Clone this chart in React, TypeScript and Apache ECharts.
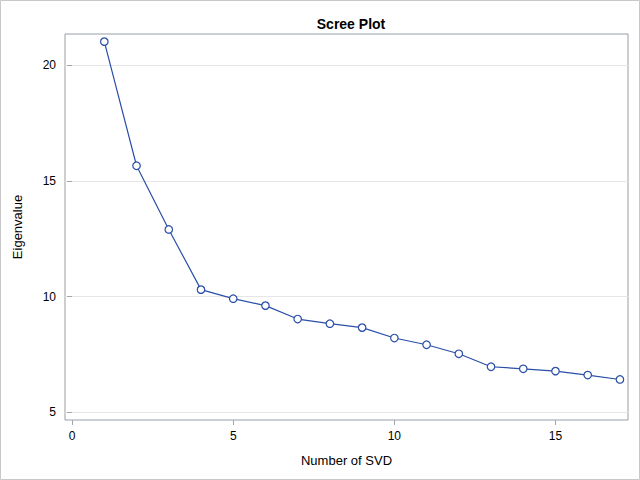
import { useEffect, useRef } from 'react';
import * as echarts from 'echarts';

// number of SVD components
const components = [1, 2, 3, 4, 5, 6, 7, 8, 9, 10, 11, 12, 13, 14, 15, 16, 17];
// eigenvalue of each component
const eigenvalues = [21.01, 15.65, 12.9, 10.3, 9.91, 9.61, 9.03, 8.83, 8.66, 8.21, 7.92, 7.53, 6.97, 6.88, 6.78, 6.61, 6.42];
const xTicks = [0, 5, 10, 15];
const yTicks = [5, 10, 15, 20];

const FONT = "'Liberation Sans', Arial, sans-serif";

function App() {
  const chartRef = useRef<HTMLDivElement>(null);

  useEffect(() => {
    if (!chartRef.current) return;
    const chart = echarts.init(chartRef.current, null, { renderer: 'svg' });

    const option: echarts.EChartsOption = {
      animation: false,
      backgroundColor: '#fff',
      title: {
        text: 'Scree Plot',
        left: 346,
        top: 12,
        textAlign: 'center',
        textStyle: { fontFamily: FONT, fontSize: 14, fontWeight: 'bold', color: '#000' }
      },
      graphic: [
        {
          type: 'rect',
          shape: { x: 0.5, y: 0.5, width: 639, height: 479 },
          style: { fill: 'none', stroke: '#c8c8c8', lineWidth: 1 },
          silent: true
        }
      ],
      grid: {
        left: 65,
        top: 34,
        right: 12,
        bottom: 60,
        show: true,
        borderColor: '#989ea5',
        borderWidth: 1,
        containLabel: false
      },
      xAxis: {
        type: 'value',
        min: -0.22,
        max: 17.25,
        name: 'Number of SVD',
        nameLocation: 'middle',
        nameGap: 34,
        nameTextStyle: { fontFamily: FONT, fontSize: 13, color: '#000' },
        axisLine: { show: false },
        axisTick: { show: true, length: 5, customValues: xTicks, lineStyle: { color: '#a0a6ac' } },
        axisLabel: { customValues: xTicks, fontFamily: FONT, fontSize: 12, color: '#000', margin: 10 },
        splitLine: { show: false }
      },
      yAxis: {
        type: 'value',
        min: 4.67,
        max: 21.34,
        name: 'Eigenvalue',
        nameLocation: 'middle',
        nameGap: 41,
        nameTextStyle: { fontFamily: FONT, fontSize: 13, color: '#000' },
        axisLine: { show: false },
        axisTick: { show: true, length: 5, customValues: yTicks, lineStyle: { color: '#a0a6ac' } },
        axisLabel: { customValues: yTicks, fontFamily: FONT, fontSize: 12, color: '#000', margin: 9 },
        splitLine: { show: true, lineStyle: { color: '#e6e6e6', width: 1 } }
      },
      series: [
        {
          type: 'line',
          data: components.map((c, i) => [c, eigenvalues[i]]),
          symbol: 'circle',
          symbolSize: 7.5,
          showSymbol: true,
          lineStyle: { color: '#2a4fa8', width: 1.2 },
          itemStyle: { color: '#fff', borderColor: '#2a4fa8', borderWidth: 1.2 }
        }
      ]
    };

    chart.setOption(option);

    return () => {
      chart.dispose();
    };
  }, []);

  return (
    <div
      ref={chartRef}
      style={{ position: 'fixed', left: 0, top: 0, width: '640px', height: '480px' }}
    />
  );
}

export default App;
